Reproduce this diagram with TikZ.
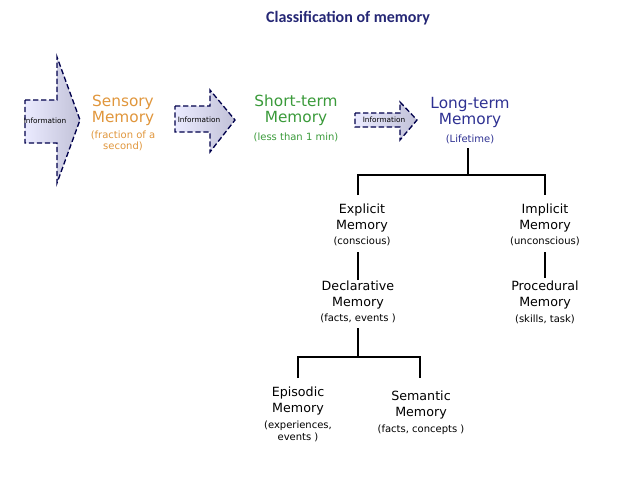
\documentclass[tikz,border=0pt]{standalone}
\usepackage{fontspec}
\setmainfont{DejaVu Sans}
\newfontfamily\titlefont{Carlito}
\begin{document}
\begin{tikzpicture}[x=0.75pt,y=-0.75pt,
  arr/.style={draw=black!70!blue,line width=1pt,left color=blue!8!white,right color=blue!22!gray!40,dash pattern=on 4pt off 2pt},
  info/.style={font=\fontsize{5.5}{6}\selectfont},
  big/.style={align=center,font=\fontsize{11.5}{12}\selectfont},
  sub/.style={align=center,font=\fontsize{7.5}{8.5}\selectfont},
  txt/.style={align=center,font=\fontsize{9.5}{11.5}\selectfont},
  st/.style={align=center,font=\fontsize{7.5}{9}\selectfont},
  ln/.style={line width=1.5pt}]
\useasboundingbox (0,0) rectangle (638,478);
\definecolor{org}{HTML}{E0963C}\definecolor{grn}{HTML}{3A9A3A}\definecolor{nav}{HTML}{2E3192}
\node[font=\titlefont\bfseries\fontsize{12}{14}\selectfont,text=nav!80!black] (title) at (348,18) {Classification of memory};
\draw[arr] (25,100) -- (57,100) -- (57,57) -- (80,120) -- (57,183) -- (57,143) -- (25,143) -- cycle;
\node[info] (i1) at (45,121) {Information};
\draw[arr] (175,106) -- (210,106) -- (210,90) -- (235,120) -- (210,152) -- (210,132) -- (175,132) -- cycle;
\node[info] (i2) at (199,120) {Information};
\draw[arr] (355,113) -- (400,113) -- (400,102) -- (417,120) -- (400,140) -- (400,127) -- (355,127) -- cycle;
\node[info] (i3) at (384,120) {Information};
\node[big,text=org] (sm) at (123,110) {Sensory\\Memory};
\node[sub,text=org] (sms) at (123,141) {(fraction of a\\second)};
\node[big,text=grn] (stm) at (296,110) {Short-term\\Memory};
\node[sub,text=grn] (stms) at (296,137) {(less than 1 min)};
\node[big,text=nav] (ltm) at (470,113) {Long-term\\Memory};
\node[sub,text=nav,inner sep=1pt] (ltms) at (470,139) {(Lifetime)};
\node[txt] (exp) at (362,218) {Explicit\\Memory};
\node[st] (exps) at (362,241) {(conscious)};
\node[txt] (imp) at (545,218) {Implicit\\Memory};
\node[st] (imps) at (545,241) {(unconscious)};
\node[txt] (dec) at (358,295) {Declarative\\Memory};
\node[st] (decs) at (358,318) {(facts, events )};
\node[txt] (pro) at (545,295) {Procedural\\Memory};
\node[st] (pros) at (545,319) {(skills, task)};
\node[txt] (epi) at (298,401) {Episodic\\Memory};
\node[st] (epis) at (298,431) {(experiences,\\events )};
\node[txt] (sem) at (421,405) {Semantic\\Memory};
\node[st] (sems) at (421,430) {(facts, concepts )};
\coordinate (j1) at (468,175);
\coordinate (j2) at (358,357);
\draw[ln] (468,148) -- (j1) (358,195) |- (j1) -| (545,195);
\draw[ln] (358,252) -- (358,280);
\draw[ln] (545,252) -- (545,278);
\draw[ln] (358,328) -- (j2) (298,378) |- (j2) -| (420,378);
\end{tikzpicture}
\end{document}
